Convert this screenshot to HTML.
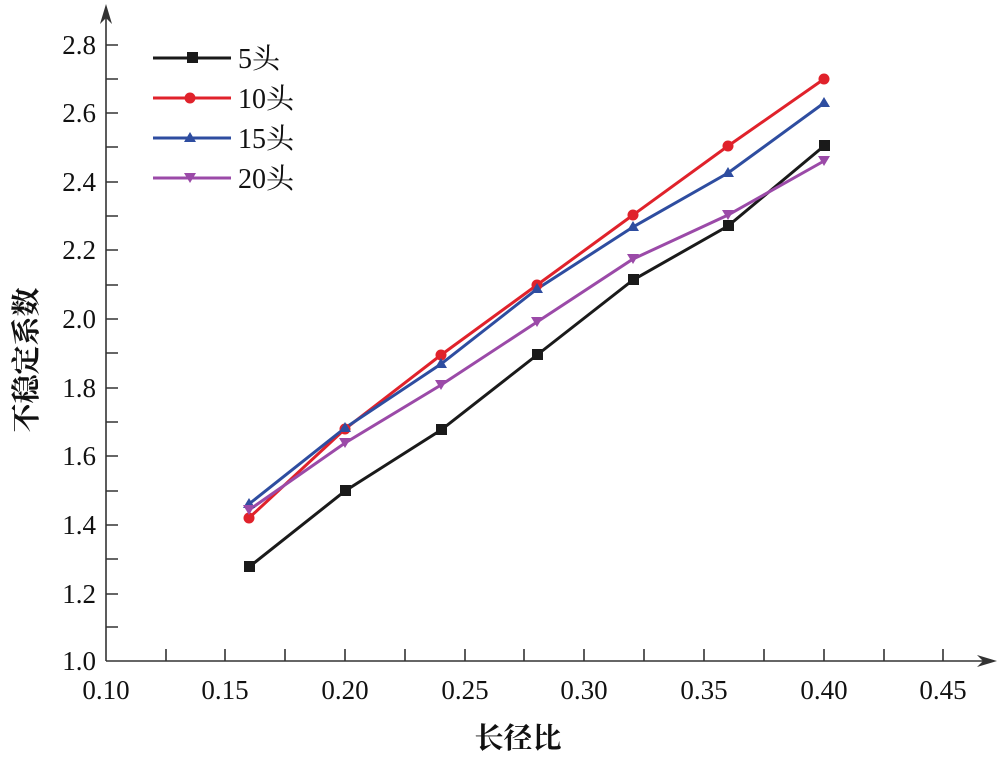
<!DOCTYPE html><html><head><meta charset="utf-8"><style>body{margin:0;background:#fff}</style></head><body>
<svg width="999" height="760" xmlns="http://www.w3.org/2000/svg" font-family="Liberation Serif, Noto Serif CJK SC, serif" font-size="27" fill="#111">
<g stroke="#333" stroke-width="1.6" fill="none">
<line x1="106" y1="661" x2="990" y2="661"/><line x1="106" y1="661" x2="106" y2="12"/>
<path d="M106 4 L100 24 L106 18 L112 24 Z" fill="#333" stroke="none"/>
<path d="M997 661 L977 655 L983 661 L977 667 Z" fill="#333" stroke="none"/>
<path d="M166 661v-12M225 661v-12M285 661v-12M345 661v-12M405 661v-12M465 661v-12M524 661v-12M584 661v-12M644 661v-12M704 661v-12M764 661v-12M824 661v-12M884 661v-12M943 661v-12"/>
<path d="M106 627h12M106 594h12M106 559h12M106 525h12M106 491h12M106 456h12M106 422h12M106 388h12M106 353h12M106 319h12M106 285h12M106 250h12M106 216h12M106 182h12M106 147h12M106 113h12M106 79h12M106 45h12"/>
</g>
<g text-anchor="end"><text x="96" y="670">1.0</text><text x="96" y="603">1.2</text><text x="96" y="534">1.4</text><text x="96" y="465">1.6</text><text x="96" y="397">1.8</text><text x="96" y="328">2.0</text><text x="96" y="259">2.2</text><text x="96" y="191">2.4</text><text x="96" y="122">2.6</text><text x="96" y="54">2.8</text></g>
<g text-anchor="middle"><text x="106" y="699">0.10</text><text x="225" y="699">0.15</text><text x="345" y="699">0.20</text><text x="465" y="699">0.25</text><text x="584" y="699">0.30</text><text x="704" y="699">0.35</text><text x="824" y="699">0.40</text><text x="943" y="699">0.45</text>
<text x="518" y="748" font-size="29" font-weight="bold">长径比</text>
<text transform="translate(36,360) rotate(-90)" font-size="29" font-weight="bold">不稳定系数</text></g>
<g stroke-width="3" fill="none">
<polyline stroke="#1a1a1a" points="249,567 345,491 441,430 537,355 633,280 728,226 824,146"/>
<polyline stroke="#e0222b" points="249,518 345,429 441,355 537,285 633,215 728,146 824,79"/>
<polyline stroke="#2e4da0" points="249,504 345,428 441,364 537,289 633,227 728,173 824,103"/>
<polyline stroke="#9b4aa8" points="249,510 345,443 441,385 537,322 633,259 728,215 824,161"/>
<line x1="153" y1="58" x2="231" y2="58" stroke="#1a1a1a"/>
<line x1="153" y1="98" x2="231" y2="98" stroke="#e0222b"/>
<line x1="153" y1="138" x2="231" y2="138" stroke="#2e4da0"/>
<line x1="153" y1="178" x2="231" y2="178" stroke="#9b4aa8"/>
</g>
<g fill="#1a1a1a"><rect x="244" y="561" width="11" height="11"/><rect x="340" y="485" width="11" height="11"/><rect x="436" y="424" width="11" height="11"/><rect x="532" y="349" width="11" height="11"/><rect x="628" y="274" width="11" height="11"/><rect x="723" y="220" width="11" height="11"/><rect x="819" y="140" width="11" height="11"/><rect x="187" y="52" width="11" height="11"/></g>
<g fill="#e0222b"><circle cx="249" cy="518" r="5.5"/><circle cx="345" cy="429" r="5.5"/><circle cx="441" cy="355" r="5.5"/><circle cx="537" cy="285" r="5.5"/><circle cx="633" cy="215" r="5.5"/><circle cx="728" cy="146" r="5.5"/><circle cx="824" cy="79" r="5.5"/><circle cx="190" cy="98" r="5.5"/></g>
<g fill="#2e4da0"><path d="M249 498l6 10h-12zM345 422l6 10h-12zM441 358l6 10h-12zM537 283l6 10h-12zM633 221l6 10h-12zM728 167l6 10h-12zM824 97l6 10h-12zM190 132l6 10h-12z"/></g>
<g fill="#9b4aa8"><path d="M249 515l6 -10h-12zM345 448l6 -10h-12zM441 390l6 -10h-12zM537 327l6 -10h-12zM633 264l6 -10h-12zM728 220l6 -10h-12zM824 166l6 -10h-12zM190 183l6 -10h-12z"/></g>
<g font-size="28"><text x="238" y="68">5头</text><text x="238" y="108">10头</text><text x="238" y="148">15头</text><text x="238" y="188">20头</text></g>
</svg></body></html>
